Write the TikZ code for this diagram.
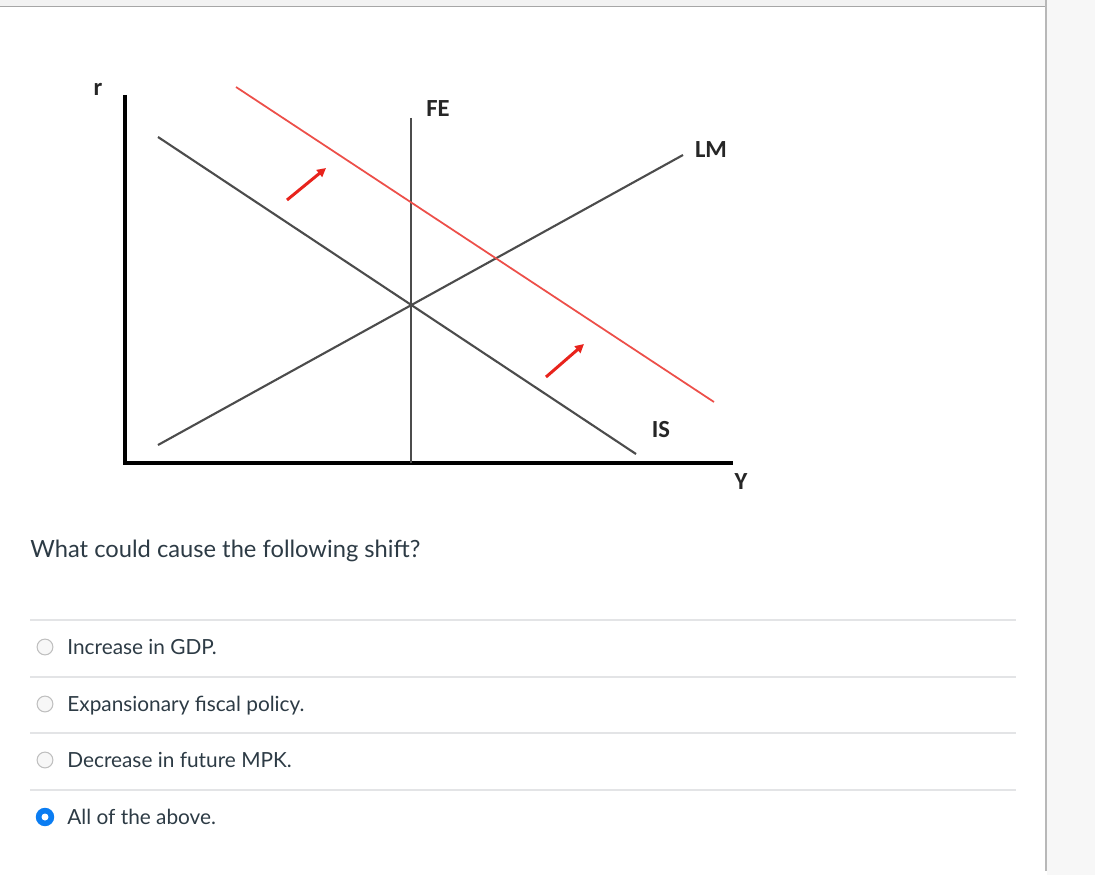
\documentclass[tikz,border=0pt]{standalone}
\usepackage{fontspec}
\setmainfont{Lato}
\newfontfamily\graphfont{Carlito}
\usetikzlibrary{arrows.meta}

\definecolor{canvastext}{HTML}{2D3B45}
\definecolor{radioblue}{HTML}{0B7DF2}
\definecolor{shiftred}{HTML}{E8231C}
\definecolor{rulegray}{HTML}{E3E4E6}

\tikzset{
	curve/.style={draw=black!70, line width=1.2pt},
	shiftcurve/.style={draw=shiftred!80, line width=1pt},
	shiftarrow/.style={draw=shiftred, line width=1.7pt, -{Triangle[length=5pt,width=5pt]}},
	axislabel/.style={font=\graphfont\bfseries\fontsize{14}{16}\selectfont, text=black!85, inner sep=0pt},
	answer/.style={font=\fontsize{11.85}{13}\selectfont, text=canvastext, anchor=base west, inner sep=0pt},
	radio/.style={circle, draw=black!25, fill=black!3, line width=0.6pt, minimum size=9pt, inner sep=0pt},
	chosen/.style={circle, fill=radioblue, minimum size=10.5pt, inner sep=0pt}
}

\begin{document}
\begin{tikzpicture}[x=0.02cm,y=-0.02cm]
\useasboundingbox (0,0) rectangle (1095,875);
\fill[white] (0,0) rectangle (1095,875);
\fill[black!3] (1047,0) rectangle (1095,875);
\fill[black!5] (0,0) rectangle (1047,6);
\draw[black!35, line width=0.8pt] (0,6.5) -- (1047,6.5);
\draw[black!28, line width=1.1pt] (1046,0) -- (1046,871);

% points of the graph
\coordinate (rtop) at (125,95);
\coordinate (O) at (125,463);
\coordinate (yend) at (733,463);
\coordinate (FEtop) at (411,118);
\coordinate (FEbot) at (411,463);
\coordinate (ISa) at (158,137);
\coordinate (ISb) at (636,454);
\coordinate (LMa) at (158,445);
\coordinate (LMb) at (683,155);
\coordinate (ISra) at (236,87);
\coordinate (ISrb) at (714,402);
\coordinate (arr1a) at (287,200);
\coordinate (arr1b) at (326,168);
\coordinate (arr2a) at (546,377);
\coordinate (arr2b) at (584,344);

\draw[line width=1.8pt] (rtop) -- (O) -- (yend);
\draw[curve] (FEtop) -- (FEbot);
\draw[curve] (ISa) -- (ISb);
\draw[curve] (LMa) -- (LMb);
\draw[shiftcurve] (ISra) -- (ISrb);
\draw[shiftarrow] (arr1a) -- (arr1b);
\draw[shiftarrow] (arr2a) -- (arr2b);

\node[axislabel] (r) at (98,89) {r};
\node[axislabel] (FE) at (438,109) {FE};
\node[axislabel] (LM) at (711,150) {LM};
\node[axislabel] (IS) at (661,430) {IS};
\node[axislabel] (Y) at (741,482) {Y};

% question
\node[answer, font=\fontsize{13.5}{15}\selectfont] (question) at (30,557) {What could cause the following shift?};

\draw[rulegray, line width=1pt] (30,620) -- (1016,620);
\draw[rulegray, line width=1pt] (30,677) -- (1016,677);
\draw[rulegray, line width=1pt] (30,733) -- (1016,733);
\draw[rulegray, line width=1pt] (30,790) -- (1016,790);

\node[radio] (radio1) at (45,647) {};
\node[radio] (radio2) at (45,704) {};
\node[radio] (radio3) at (45,760) {};
\node[chosen] (radio4) at (45,817) {};
\fill[white] (radio4.center) circle (3.5);

\node[answer] (opt1) at (67,654) {Increase in GDP.};
\node[answer] (opt2) at (67,711) {Expansionary fiscal policy.};
\node[answer] (opt3) at (67,767) {Decrease in future MPK.};
\node[answer] (opt4) at (67,824) {All of the above.};
\end{tikzpicture}
\end{document}
